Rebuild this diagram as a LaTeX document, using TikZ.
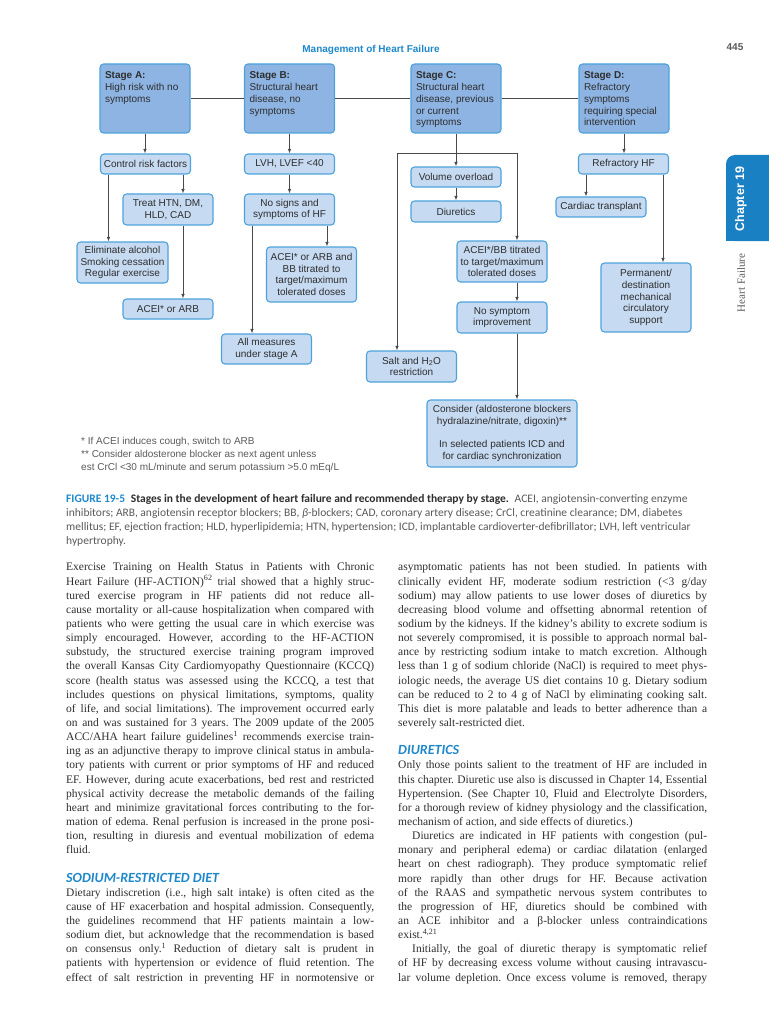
\documentclass[tikz,border=0pt]{standalone}
\usepackage{fontspec}
\setmainfont{Liberation Serif}
\setsansfont{Liberation Sans}
\newfontfamily\capfont{Carlito}
\usetikzlibrary{arrows.meta}
\definecolor{pageblue}{HTML}{1E88CB}
\definecolor{tabblue}{HTML}{1A80C4}
\definecolor{stagefill}{HTML}{8EB4E3}
\definecolor{boxfill}{HTML}{C6DAF2}
\definecolor{boxline}{HTML}{4DA2DB}
\definecolor{linkgray}{HTML}{4A4A4A}
\definecolor{inkgray}{HTML}{2E2E2E}
\definecolor{capgray}{HTML}{5A5A5A}

\tikzset{
  box/.style={draw=boxline, line width=1.1pt, rounded corners=3.5pt, fill=boxfill,
    inner sep=0pt, minimum width=90pt, text=inkgray, align=center,
    font=\sffamily\fontsize{10}{11.7}\selectfont},
  stagebox/.style={box, fill=stagefill, minimum height=69pt},
  link/.style={draw=linkgray, line width=0.8pt, -{Latex[length=4.5pt,width=3.6pt]}},
  plain/.style={draw=linkgray, line width=0.8pt},
}
\newcommand\stagetxt[2]{\parbox[c][53pt][t]{80pt}{\raggedright\textbf{Stage #1:}\\#2}}
\newcommand\jl[1]{\makebox[\linewidth][s]{#1}\par}
\newcommand\bodyfont{\rmfamily\fontsize{11.5}{14.14}\selectfont\frenchspacing\color{inkgray}}
\newcommand\headfont{\capfont\bfseries\itshape\fontsize{14}{14.14}\selectfont\color{pageblue}}

\begin{document}
\begin{tikzpicture}[x=1pt, y=-1pt]
  \useasboundingbox (0,0) rectangle (768,1024);
  \fill[white] (0,0) rectangle (768,1024);

  \node[font=\sffamily\bfseries\fontsize{10}{12}\selectfont, text=pageblue] (title) at (371,50) {Management of Heart Failure};
  \node[font=\sffamily\bfseries\fontsize{10}{12}\selectfont, text=capgray] (pageno) at (735,47) {445};

  \fill[tabblue, rounded corners=9pt] (780,155) -- (726,155) -- (726,241) -- (780,241) -- cycle;
  \fill[tabblue] (726,225) rectangle (750,241);
  \node[rotate=90, font=\sffamily\bfseries\fontsize{12.5}{14}\selectfont, text=white] (chapter) at (741,199) {Chapter 19};
  \node[rotate=90, font=\rmfamily\fontsize{11}{13}\selectfont, text=capgray] (chapname) at (741,283) {Heart Failure};

  % stages
  \node[stagebox] (stA) at (145,98.5) {\stagetxt{A}{High risk with no\\symptoms}};
  \node[stagebox] (stB) at (289.5,98.5) {\stagetxt{B}{Structural heart\\disease, no\\symptoms}};
  \node[stagebox] (stC) at (456,98.5) {\stagetxt{C}{Structural heart\\disease, previous\\or current\\symptoms}};
  \node[stagebox] (stD) at (624,98.5) {\stagetxt{D}{Refractory\\symptoms\\requiring special\\intervention}};

  \node[box, minimum height=20pt] (ctrl) at (145.5,164) {Control risk factors};
  \node[box, minimum height=31pt] (treat) at (168,209.5) {Treat HTN, DM,\\HLD, CAD};
  \node[box, minimum width=91pt, minimum height=41pt] (elim) at (122.5,262.5) {Eliminate alcohol\\Smoking cessation\\Regular exercise};
  \node[box, minimum height=20pt] (acei) at (168,309) {ACEI* or ARB};

  \node[box, minimum height=20pt] (lvh) at (289.5,164) {LVH, LVEF <40};
  \node[box, minimum height=31pt] (nosign) at (289.5,209.5) {No signs and\\symptoms of HF};
  \node[box, minimum height=55pt] (aceibb) at (311.5,274.5) {ACEI* or ARB and\\BB titrated to\\target/maximum\\tolerated doses};
  \node[box, minimum height=30pt] (allst) at (266.5,349) {All measures\\under stage A};

  \node[box, minimum height=20pt] (volo) at (456,177) {Volume overload};
  \node[box, minimum height=21pt] (diur) at (456,211.5) {Diuretics};
  \node[box, minimum height=41pt] (titr) at (502,261.5) {ACEI*/BB titrated\\to target/maximum\\tolerated doses};
  \node[box, minimum height=31pt] (nosym) at (502,317.5) {No symptom\\improvement};
  \node[box, minimum height=31pt] (salt) at (411.5,366.5) {Salt and H\textsubscript{2}O\\restriction};
  \node[box, minimum width=150pt, minimum height=67pt] (consid) at (502,433.5) {Consider (aldosterone blockers\\hydralazine/nitrate, digoxin)**\\\mbox{}\\In selected patients ICD and\\for cardiac synchronization};

  \node[box, minimum height=20pt] (refr) at (623.5,164) {Refractory HF};
  \node[box, minimum height=20pt] (transp) at (601,207) {Cardiac transplant};
  \node[box, minimum height=69pt] (perm) at (646,297.5) {Permanent/\\destination\\mechanical\\circulatory\\support};

  \draw[plain] (stA.east) -- (stB.west);
  \draw[plain] (stB.east) -- (stC.west);
  \draw[plain] (stC.east) -- (stD.west);

  \draw[link] (stA.south) -- (stA.south |- ctrl.north);
  \draw[link] ([xshift=-37pt]ctrl.south) coordinate (a1) -- (a1 |- elim.north);
  \draw[link] ([xshift=37.5pt]ctrl.south) coordinate (a2) -- (a2 |- treat.north);
  \draw[link] ([xshift=15pt]treat.south) coordinate (a3) -- (a3 |- acei.north);

  \draw[link] (stB.south) -- (stB.south |- lvh.north);
  \draw[link] (lvh) -- (nosign);
  \draw[link] ([xshift=-37.5pt]nosign.south) coordinate (b1) -- (b1 |- allst.north);
  \draw[link] ([xshift=37.5pt]nosign.south) coordinate (b2) -- (b2 |- aceibb.north);

  \coordinate (fork) at (456,153);
  \draw[link] (stC.south) -- (stC.south |- volo.north);
  \draw[plain] ([xshift=-59pt]fork) -- ([xshift=61pt]fork);
  \draw[link] ([xshift=-59pt]fork) coordinate (c1) -- (c1 |- salt.north);
  \draw[link] ([xshift=61pt]fork) coordinate (c2) -- (c2 |- titr.north);
  \draw[link] (volo) -- (diur);
  \draw[link] ([xshift=15pt]titr.south) coordinate (c3) -- (c3 |- nosym.north);
  \draw[link] ([xshift=15pt]nosym.south) coordinate (c4) -- (c4 |- consid.north);

  \draw[link] (stD.south) -- (stD.south |- refr.north);
  \draw[link] ([xshift=-37.5pt]refr.south) coordinate (d1) -- (d1 |- transp.north);
  \draw[link] ([xshift=39.5pt]refr.south) coordinate (d2) -- (d2 |- perm.north);

  \node[anchor=base west, inner sep=0pt] (notes) at (81,437.5) {\parbox[t]{300pt}{\sffamily\fontsize{10}{13}\selectfont\color{capgray}%
    * If ACEI induces cough, switch to ARB\\
    {}** Consider aldosterone blocker as next agent unless\\
    est CrCl <30 mL/minute and serum potassium >5.0 mEq/L}};

  \node[anchor=base west, inner sep=0pt] (caption) at (66,494.5) {\parbox[t]{660pt}{\capfont\fontsize{11.5}{14}\selectfont\color{capgray}\raggedright
    {\color{pageblue}\bfseries FIGURE 19-5}\enspace{\color{inkgray}\bfseries Stages in the development of heart failure and recommended therapy by stage.}\enspace ACEI, angiotensin-converting enzyme\\
    inhibitors; ARB, angiotensin receptor blockers; BB, {\itshape β}-blockers; CAD, coronary artery disease; CrCl, creatinine clearance; DM, diabetes\\
    mellitus; EF, ejection fraction; HLD, hyperlipidemia; HTN, hypertension; ICD, implantable cardioverter-defibrillator; LVH, left ventricular\\
    hypertrophy.}};

  \node[anchor=base west, inner sep=0pt] (colL) at (66,563) {\parbox[t]{308pt}{\bodyfont
    \jl{Exercise Training on Health Status in Patients with Chronic}
    \jl{Heart Failure (HF-ACTION)\textsuperscript{62} trial showed that a highly struc-}
    \jl{tured exercise program in HF patients did not reduce all-}
    \jl{cause mortality or all-cause hospitalization when compared with}
    \jl{patients who were getting the usual care in which exercise was}
    \jl{simply encouraged. However, according to the HF-ACTION}
    \jl{substudy, the structured exercise training program improved}
    \jl{the overall Kansas City Cardiomyopathy Questionnaire (KCCQ)}
    \jl{score (health status was assessed using the KCCQ, a test that}
    \jl{includes questions on physical limitations, symptoms, quality}
    \jl{of life, and social limitations). The improvement occurred early}
    \jl{on and was sustained for 3 years. The 2009 update of the 2005}
    \jl{ACC/AHA heart failure guidelines\textsuperscript{1} recommends exercise train-}
    \jl{ing as an adjunctive therapy to improve clinical status in ambula-}
    \jl{tory patients with current or prior symptoms of HF and reduced}
    \jl{EF. However, during acute exacerbations, bed rest and restricted}
    \jl{physical activity decrease the metabolic demands of the failing}
    \jl{heart and minimize gravitational forces contributing to the for-}
    \jl{mation of edema. Renal perfusion is increased in the prone posi-}
    \jl{tion, resulting in diuresis and eventual mobilization of edema}
    fluid.\par
    \mbox{}\par
    {\headfont SODIUM-RESTRICTED DIET}\par
    \jl{Dietary indiscretion (i.e., high salt intake) is often cited as the}
    \jl{cause of HF exacerbation and hospital admission. Consequently,}
    \jl{the guidelines recommend that HF patients maintain a low-}
    \jl{sodium diet, but acknowledge that the recommendation is based}
    \jl{on consensus only.\textsuperscript{1} Reduction of dietary salt is prudent in}
    \jl{patients with hypertension or evidence of fluid retention. The}
    \jl{effect of salt restriction in preventing HF in normotensive or}}};

  \node[anchor=base west, inner sep=0pt] (colR) at (398,563) {\parbox[t]{309pt}{\bodyfont
    \jl{asymptomatic patients has not been studied. In patients with}
    \jl{clinically evident HF, moderate sodium restriction (<3 g/day}
    \jl{sodium) may allow patients to use lower doses of diuretics by}
    \jl{decreasing blood volume and offsetting abnormal retention of}
    \jl{sodium by the kidneys. If the kidney's ability to excrete sodium is}
    \jl{not severely compromised, it is possible to approach normal bal-}
    \jl{ance by restricting sodium intake to match excretion. Although}
    \jl{less than 1 g of sodium chloride (NaCl) is required to meet phys-}
    \jl{iologic needs, the average US diet contains 10 g. Dietary sodium}
    \jl{can be reduced to 2 to 4 g of NaCl by eliminating cooking salt.}
    \jl{This diet is more palatable and leads to better adherence than a}
    severely salt-restricted diet.\par
    \mbox{}\par
    {\headfont DIURETICS}\par
    \jl{Only those points salient to the treatment of HF are included in}
    \jl{this chapter. Diuretic use also is discussed in Chapter 14, Essential}
    \jl{Hypertension. (See Chapter 10, Fluid and Electrolyte Disorders,}
    \jl{for a thorough review of kidney physiology and the classification,}
    mechanism of action, and side effects of diuretics.)\par
    \jl{\hspace*{14pt}Diuretics are indicated in HF patients with congestion (pul-}
    \jl{monary and peripheral edema) or cardiac dilatation (enlarged}
    \jl{heart on chest radiograph). They produce symptomatic relief}
    \jl{more rapidly than other drugs for HF. Because activation}
    \jl{of the RAAS and sympathetic nervous system contributes to}
    \jl{the progression of HF, diuretics should be combined with}
    \jl{an ACE inhibitor and a β-blocker unless contraindications}
    exist.\textsuperscript{4,21}\par
    \jl{\hspace*{14pt}Initially, the goal of diuretic therapy is symptomatic relief}
    \jl{of HF by decreasing excess volume without causing intravascu-}
    \jl{lar volume depletion. Once excess volume is removed, therapy}}};
\end{tikzpicture}
\end{document}
